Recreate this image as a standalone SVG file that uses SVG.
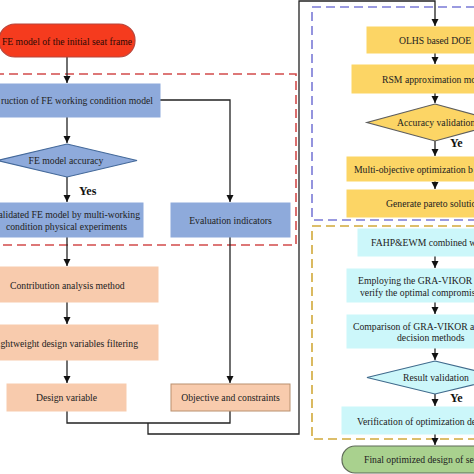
<svg xmlns="http://www.w3.org/2000/svg" width="474" height="474" viewBox="0 0 474 474">
<style>
text{font-family:"Liberation Serif","Times New Roman",serif;font-size:9.7px;fill:#222}
.m{text-anchor:middle}
.e{text-anchor:end}
.yes{font-weight:bold;font-size:12px;fill:#111}
.blue{fill:#8EAADB;stroke:#8EAADB}
.bdia{fill:#8EAADB;stroke:#44699A;stroke-width:1.2}
.peach{fill:#F8CBAD;stroke:#F8CBAD}
.gold{fill:#FCD565;stroke:#FCD565}
.gdia{fill:#FCD565;stroke:#5E5E5E;stroke-width:1.2}
.cyan{fill:#CCF7FA;stroke:#CCF7FA}
.cdia{fill:#CCF7FA;stroke:#3F6A8C;stroke-width:1.2}
.c{fill:none;stroke:#222;stroke-width:1.3}
.a{marker-end:url(#ah)}
.dash{fill:none;stroke-width:1.6;stroke-dasharray:9 5}
</style>
<defs>
<marker id="ah" markerWidth="8" markerHeight="8" refX="7" refY="4" orient="auto" markerUnits="userSpaceOnUse">
<path d="M0,0.5 L7,4 L0,7.5 Z" fill="#111"/>
</marker>
</defs>
<rect width="474" height="474" fill="#fff"/>
<g id="frames">
<rect class="dash" x="-5" y="74" width="301" height="171" stroke="#D24B4B"/>
<rect class="dash" x="312" y="7" width="200" height="213" stroke="#7A7AD6"/>
<rect class="dash" x="312" y="226" width="200" height="213" stroke="#D1A93A"/>
</g>
<g id="connectors">
<path class="c a" d="M67,57 V83"/>
<path class="c a" d="M160,100 H230 V202"/>
<path class="c a" d="M67,117 V143"/>
<path class="c a" d="M67,177 V202"/>
<path class="c a" d="M67,237 V266"/>
<path class="c a" d="M67,302 V324"/>
<path class="c a" d="M67,360 V383"/>
<path class="c a" d="M230,237 V383"/>
<path class="c" d="M67,411 V423 H230 V411"/>
<path class="c a" d="M148,423 V434 H299 V1 H435 V26"/>
<path class="c a" d="M435,53 V64"/>
<path class="c a" d="M435,93 V103"/>
<path class="c a" d="M435,141 V156"/>
<path class="c a" d="M435,181 V189"/>
<path class="c a" d="M435,256 V268"/>
<path class="c a" d="M435,302 V314"/>
<path class="c a" d="M435,348 V360"/>
<path class="c a" d="M435,394 V406"/>
<path class="c a" d="M435,434 V445"/>
</g>
<g id="n-start">
<rect x="-1" y="24" width="136" height="33" rx="16" fill="#F53B1E" stroke="#B8443A" stroke-width="1.2"/>
<text class="m" x="67" y="44.5" style="fill:#2a0a05">FE model of the initial seat frame</text>
</g>
<g id="n-construct">
<rect class="blue" x="-26" y="84" width="186" height="33"/>
<text class="e" x="153" y="103.5">ruction of FE working condition model</text>
</g>
<g id="n-accuracy">
<polygon class="bdia" points="67,144 137,160.5 67,177 -3,160.5"/>
<text class="m" x="66" y="164">FE model accuracy</text>
</g>
<text class="yes" x="79" y="194.5">Yes</text>
<g id="n-validated">
<rect class="blue" x="-9" y="203" width="152" height="34"/>
<text class="e" x="140" y="218">alidated FE model by multi-working</text>
<text class="m" x="66.5" y="229.5">condition physical experiments</text>
</g>
<g id="n-evaluation">
<rect class="blue" x="171" y="203" width="119" height="34"/>
<text class="m" x="230.5" y="223.5">Evaluation indicators</text>
</g>
<g id="n-contribution">
<rect class="peach" x="-24" y="267" width="182" height="35"/>
<text x="10" y="288.5">Contribution analysis method</text>
</g>
<g id="n-lightweight">
<rect class="peach" x="-24" y="325" width="182" height="35"/>
<text class="e" x="138" y="346.5">ightweight design variables filtering</text>
</g>
<g id="n-design">
<rect class="peach" x="7" y="384" width="119" height="27"/>
<text class="m" x="66.5" y="401">Design variable</text>
</g>
<g id="n-objective">
<rect x="171" y="384" width="119" height="27" fill="#F8CBAD" stroke="#B9906F" stroke-width="1"/>
<text class="m" x="230.5" y="401">Objective and constraints</text>
</g>
<g id="n-olhs">
<rect class="gold" x="367" y="27" width="136" height="26"/>
<text class="m" x="435" y="43.5">OLHS based DOE</text>
</g>
<g id="n-rsm">
<rect class="gold" x="352" y="65" width="166" height="28"/>
<text x="382" y="82.5">RSM approximation mo</text>
</g>
<g id="n-accval">
<polygon class="gdia" points="435,104 503,122.5 435,141 367,122.5"/>
<text x="397" y="126">Accuracy validation</text>
</g>
<text class="yes" x="450" y="147">Ye</text>
<g id="n-multi">
<rect class="gold" x="347" y="157" width="176" height="24"/>
<text x="354" y="172.5">Multi-objective optimization b</text>
</g>
<g id="n-pareto">
<rect class="gold" x="347" y="190" width="176" height="27"/>
<text x="386" y="207">Generate pareto solutio</text>
</g>
<g id="n-fahp">
<rect class="cyan" x="358" y="229" width="154" height="27"/>
<text x="371" y="246">FAHP&amp;EWM combined w</text>
</g>
<g id="n-employ">
<rect class="cyan" x="347" y="269" width="176" height="33"/>
<text x="358" y="284">Employing the GRA-VIKOR</text>
<text x="360" y="295.5">verify the optimal compromis</text>
</g>
<g id="n-compare">
<rect class="cyan" x="347" y="315" width="176" height="33"/>
<text x="353" y="329.5">Comparison of GRA-VIKOR a</text>
<text x="397" y="341">decision methods</text>
</g>
<g id="n-result">
<polygon class="cdia" points="435,361 503,377.5 435,394 367,377.5"/>
<text x="403" y="381">Result validation</text>
</g>
<text class="yes" x="450" y="402">Ye</text>
<g id="n-verify">
<rect class="cyan" x="342" y="407" width="186" height="27"/>
<text x="357" y="424.5">Verification of optimization de</text>
</g>
<g id="n-final">
<rect x="342" y="446" width="186" height="27" rx="13" fill="#A9D18E" stroke="#5F6B58" stroke-width="1.2"/>
<text x="364" y="462.5">Final optimized design of se</text>
</g>
</svg>
